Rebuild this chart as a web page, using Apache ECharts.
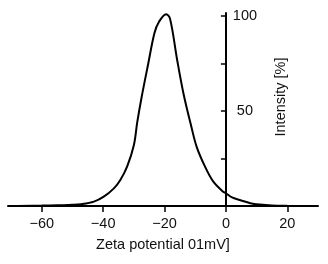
<!DOCTYPE html>
<html><head><meta charset="utf-8">
<script src="https://cdn.jsdelivr.net/npm/echarts@6/dist/echarts.min.js"></script>
<style>html,body{margin:0;padding:0;background:#fff}#c{width:328px;height:264px}</style>
</head><body><div id="c"></div>
<script>
const zetaMV = [-68,-60,-55,-50,-47.3,-43,-39.8,-36.5,-34.4,-32.2,-30,-28.9,-27.5,-25.3,-23.3,-21.8,-19.5,-18.2,-15.9,-13.8,-11.3,-9.5,-6.8,-4.1,-0.9,0,2,4.5,8,11,15,20,26];
const intensity = [0,0.2,0.4,0.6,0.9,2.3,4.9,9.3,13.7,20.7,32,44,57,75,91,97,101,98.5,77,59,42,31,20.7,12.8,7.5,6.7,4.5,3.2,1.5,0.8,0.3,0.1,0];
const xTicks = [-60,-40,-20,0,20];
const yTicks = [25,50,75,100];
const yLabels = [50,100];
const xTitle = 'Zeta potential 01mV]';
const yTitle = 'Intensity [%]';

const font = 'Liberation Sans, Arial, Helvetica, sans-serif';
const xMin = -71, xMax = 30, gridL = 8, gridR = 10;
const plotW = 328 - gridL - gridR;
const zeroOffset = -(0 - xMin) / (xMax - xMin) * plotW;
const chart = echarts.init(document.getElementById('c'));
chart.setOption({
  animation:false,
  backgroundColor:'#fff',
  grid:{left:gridL,right:gridR,top:13,bottom:58},
  xAxis:{type:'value',min:xMin,max:xMax,
    name:xTitle,nameLocation:'middle',nameGap:31,
    nameTextStyle:{color:'#111',fontSize:14.5,fontFamily:font},
    axisLine:{onZero:false,lineStyle:{color:'#000',width:2}},
    axisTick:{customValues:xTicks,length:6,lineStyle:{color:'#000',width:1.5}},
    axisLabel:{customValues:xTicks,margin:10,color:'#111',fontSize:14.5,fontFamily:font,
      formatter:v=>v<0?'\u2212'+Math.abs(v):String(v)},
    splitLine:{show:false}},
  yAxis:{type:'value',min:0,max:101.6,position:'left',offset:zeroOffset,
    axisLine:{onZero:false,lineStyle:{color:'#000',width:2}},
    axisTick:{customValues:yTicks,inside:false,length:5,lineStyle:{color:'#000',width:1.5}},
    axisLabel:{customValues:yLabels,inside:true,margin:19,align:'center',color:'#111',fontSize:14.5,fontFamily:font},
    splitLine:{show:false}},
  graphic:[{type:'text',x:281,y:97,rotation:Math.PI/2,
    style:{text:yTitle,fill:'#111',fontSize:14.5,fontFamily:font,align:'center',verticalAlign:'middle'}}],
  series:[{type:'line',data:zetaMV.map((x,i)=>[x,intensity[i]]),smooth:0.35,showSymbol:false,
    lineStyle:{color:'#000',width:2}}]
});
</script></body></html>
